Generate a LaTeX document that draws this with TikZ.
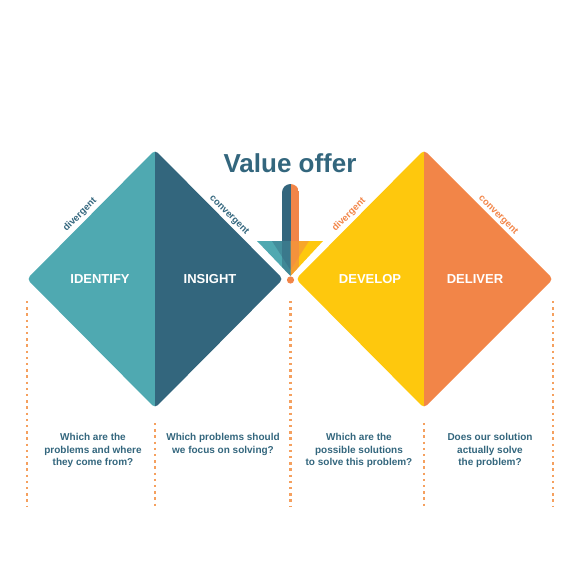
\documentclass[tikz,border=0pt]{standalone}
\usepackage{fontspec}
\setmainfont{Liberation Sans}
\definecolor{cTeal}{HTML}{4FA9B1}
\definecolor{cDark}{HTML}{33667D}
\definecolor{cYel}{HTML}{FEC80D}
\definecolor{cOra}{HTML}{F28548}
\definecolor{cDot}{HTML}{F5A05E}
\tikzset{
  phase/.style={text=white, font=\bfseries\fontsize{13}{15}\selectfont},
  edgelbl/.style={font=\bfseries\fontsize{9.5}{11}\selectfont, inner sep=1pt},
  question/.style={text=cDark, font=\bfseries\fontsize{10}{12.5}\selectfont, align=center, anchor=north},
  dotline/.style={cDot, line width=2.3pt, dash pattern=on 2.3pt off 3.9pt},
}
\begin{document}
\begin{tikzpicture}[x=1pt,y=-1pt]
\useasboundingbox (0,0) rectangle (580,580);
% left diamond
\begin{scope}
  \clip (0,0) rectangle (155,580);
  \fill[cTeal, rounded corners=4pt] (155,150) -- (27,279) -- (155,408) -- (283,279) -- cycle;
\end{scope}
\begin{scope}
  \clip (155,0) rectangle (300,580);
  \fill[cDark, rounded corners=4pt] (155,150) -- (27,279) -- (155,408) -- (283,279) -- cycle;
\end{scope}
% right diamond
\begin{scope}
  \clip (290,0) rectangle (424,580);
  \fill[cYel, rounded corners=4pt] (424,150) -- (296,279) -- (424,408) -- (553,279) -- cycle;
\end{scope}
\begin{scope}
  \clip (424,0) rectangle (580,580);
  \fill[cOra, rounded corners=4pt] (424,150) -- (296,279) -- (424,408) -- (553,279) -- cycle;
\end{scope}
% arrow head
\fill[cTeal] (257,241) -- (290.5,241) -- (290.5,276) -- cycle;
\fill[cYel] (290.5,241) -- (323,241) -- (290.5,276) -- cycle;
\fill[cDark, opacity=0.4] (272,241) -- (290.5,241) -- (290.5,270) -- cycle;
\fill[cOra, opacity=0.5] (290.5,241) -- (309,241) -- (290.5,270) -- cycle;
\begin{scope}
  \clip (257,241) -- (323,241) -- (290.5,276) -- cycle;
  \fill[cDark, opacity=0.5] (282,241) rectangle (290.5,280);
  \fill[cOra, opacity=0.6] (290.5,241) rectangle (299,280);
\end{scope}
% arrow shaft
\begin{scope}
  \clip[rounded corners=8.5pt] (282,184) rectangle (299,262);
  \fill[cDark] (282,184) rectangle (290.5,241.3);
  \fill[cOra] (290.5,184) rectangle (299,241.3);
\end{scope}
\fill[cOra] (290.5,280) circle (3.6);
% title
\node[text=cDark, font=\bfseries\fontsize{26}{30}\selectfont] (title) at (290,163) {Value offer};
% phase labels
\node[phase] (identify) at (100,279) {IDENTIFY};
\node[phase] (insight) at (210,279) {INSIGHT};
\node[phase] (develop) at (370,279) {DEVELOP};
\node[phase] (deliver) at (475,279) {DELIVER};
% edge labels
\node[edgelbl, text=cDark, rotate=45] (div1) at (80,215) {divergent};
\node[edgelbl, text=cDark, rotate=-45] (conv1) at (229,215) {convergent};
\node[edgelbl, text=cOra, rotate=45] (div2) at (349,215) {divergent};
\node[edgelbl, text=cOra, rotate=-45] (conv2) at (498,215) {convergent};
% dotted lines
\draw[dotline] (27,301) -- (27,506);
\draw[dotline] (155,423) -- (155,506);
\draw[dotline] (290.5,301) -- (290.5,506);
\draw[dotline] (424,423) -- (424,506);
\draw[dotline] (553,301) -- (553,506);
% questions
\node[question] (q1) at (93,430) {Which are the\\problems and where\\they come from?};
\node[question] (q2) at (223,430) {Which problems should\\we focus on solving?};
\node[question] (q3) at (359,430) {Which are the\\possible solutions\\to solve this problem?};
\node[question] (q4) at (490,430) {Does our solution\\actually solve\\the problem?};
\end{tikzpicture}
\end{document}
